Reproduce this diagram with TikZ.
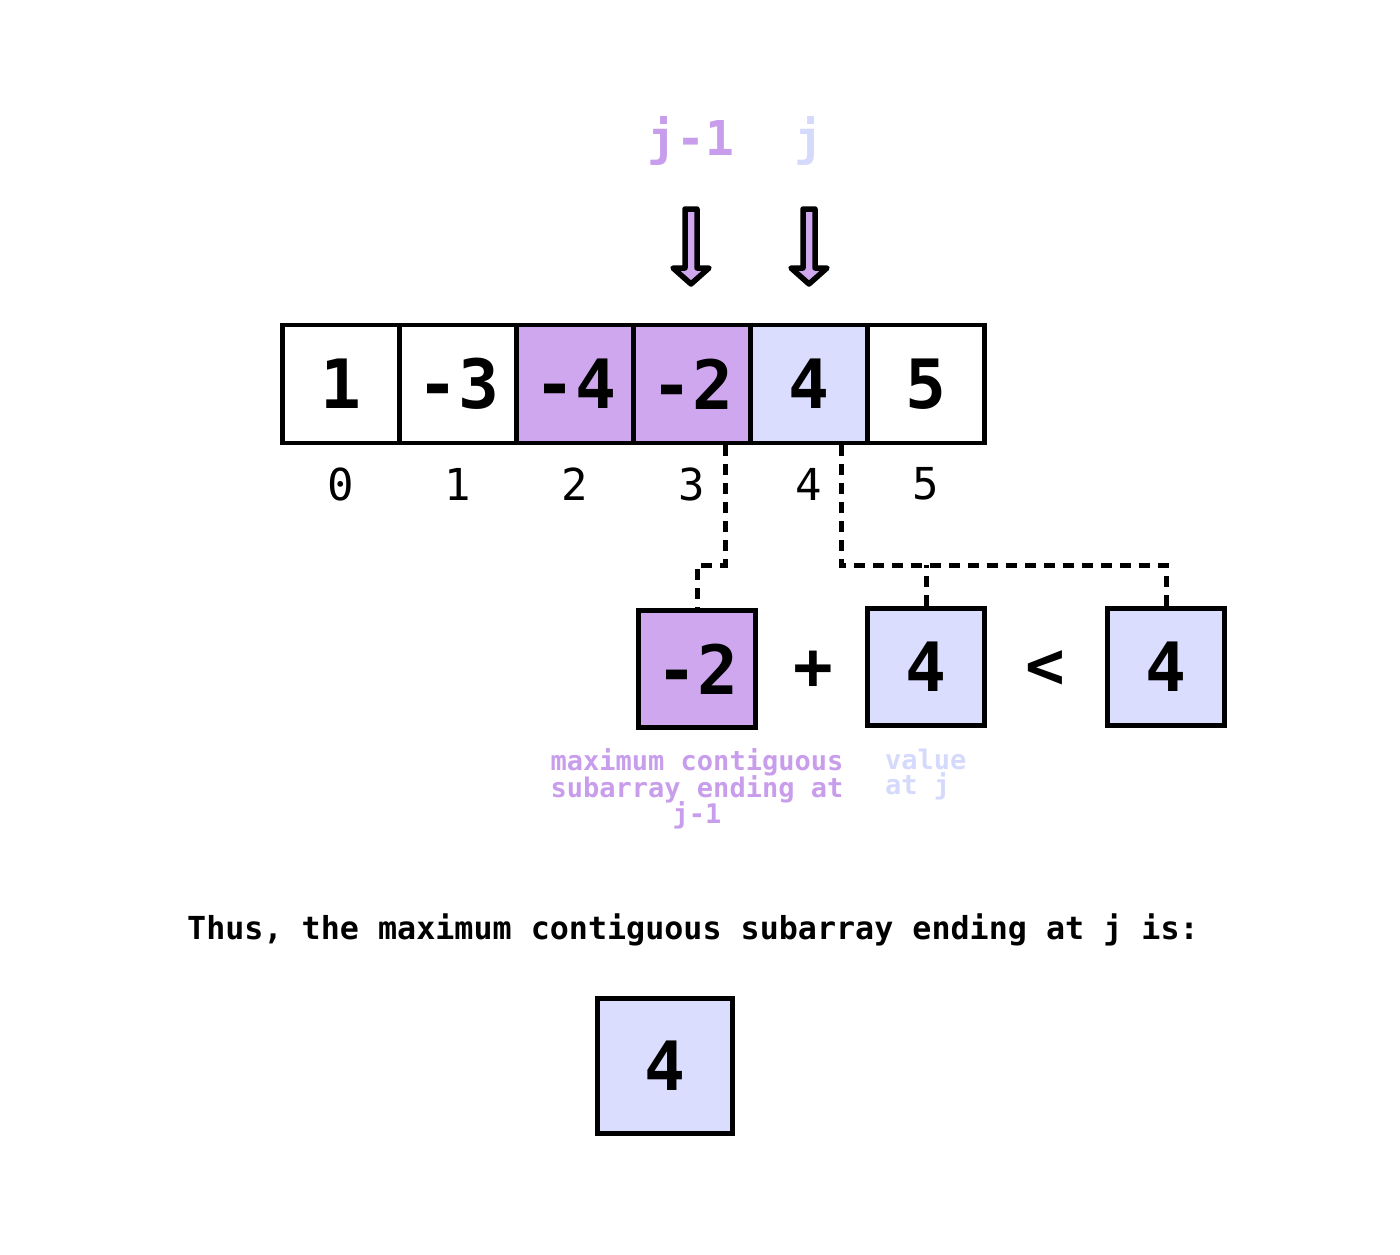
\documentclass[tikz,border=0pt]{standalone}
\usepackage{fontspec}
\setmonofont{DejaVu Sans Mono}
\definecolor{purp}{HTML}{CFA7EE}
\definecolor{lav}{HTML}{DADDFD}
\definecolor{purptxt}{HTML}{C89DEC}
\definecolor{lavtxt}{HTML}{D5D9FC}
\tikzset{
  cell/.style={draw=black, line width=4.5pt, minimum width=117pt, minimum height=118pt, inner sep=0pt, font=\ttfamily\bfseries\fontsize{68}{68}\selectfont},
  rbox/.style={draw=black, line width=5pt, minimum width=117pt, minimum height=117pt, inner sep=0pt, font=\ttfamily\bfseries\fontsize{68}{68}\selectfont},
  idx/.style={font=\ttfamily\fontsize{44}{44}\selectfont, inner sep=0pt},
  optxt/.style={font=\ttfamily\bfseries\fontsize{66}{66}\selectfont, inner sep=0pt},
  ptr/.style={font=\ttfamily\bfseries\fontsize{48}{48}\selectfont, inner sep=0pt},
  captxt/.style={font=\ttfamily\bfseries\fontsize{27}{27}\selectfont, inner sep=0pt},
  link/.style={draw=black, line width=5pt, dash pattern=on 11pt off 8pt},
  blockarrow/.style={draw=black, fill=purp, line width=5.5pt, line join=round}
}
\begin{document}
\begin{tikzpicture}[x=1pt,y=-1pt]
\useasboundingbox (0,0) rectangle (1400,1255);
% array cells
\node[cell, fill=white] (c0) at (341,384) {1};
\node[cell, fill=white] (c1) at (458,384) {-3};
\node[cell, fill=purp]  (c2) at (575,384) {-4};
\node[cell, fill=purp]  (c3) at (692,384) {-2};
\node[cell, fill=lav]   (c4) at (809,384) {4};
\node[cell, fill=white] (c5) at (926,384) {5};
% indices
\node[idx] (i0) at (341,484) {0};
\node[idx] (i1) at (458,484) {1};
\node[idx] (i2) at (575,484) {2};
\node[idx] (i3) at (692,484) {3};
\node[idx] (i4) at (809,484) {4};
\node[idx] (i5) at (926,484) {5};
% pointer labels
\node[ptr, text=purptxt] (pj1) at (691,141) {j-1};
\node[ptr, text=lavtxt] (pj) at (809,141) {j};
% block arrows
\foreach \cx/\nm in {691/a1, 809/a2}{
  \draw[blockarrow] (\cx-6,209) -- (\cx+6,209) -- (\cx+6,268) -- (\cx+18,268) -- (\cx,284) -- (\cx-18,268) -- (\cx-6,268) -- cycle;
}
% result boxes
\node[rbox, fill=purp] (b1) at (697,669) {-2};
\node[optxt] (plus) at (813,670) {+};
\node[rbox, fill=lav] (b2) at (926,667) {4};
\node[optxt] (lt) at (1045,670) {<};
\node[rbox, fill=lav] (b3) at (1166,667) {4};
% connectors
\coordinate (k1) at (725,565);
\coordinate (k2) at (841,565);
\draw[link] ([xshift=33pt]c3.south) -- (k1) -| (b1.north);
\draw[link] ([xshift=32pt]c4.south) -- (k2) -| (b3.north);
\draw[link] (b2.north) -- (b2.north |- k2);
% captions
\node[captxt, text=purptxt, align=center] (cap1) at (697,789) {maximum contiguous\\[-2pt]subarray ending at\\[-2pt]j-1};
\node[captxt, text=lavtxt, align=left, anchor=north west] (cap2) at (885,749) {value\\[-2pt]at j};
% conclusion
\node[font=\ttfamily\bfseries\fontsize{31.7}{32}\selectfont, inner sep=0pt] (thus) at (693,930) {Thus, the maximum contiguous subarray ending at j is:};
\node[rbox, fill=lav, minimum width=135pt, minimum height=135pt] (fin) at (665,1066) {4};
\end{tikzpicture}
\end{document}
